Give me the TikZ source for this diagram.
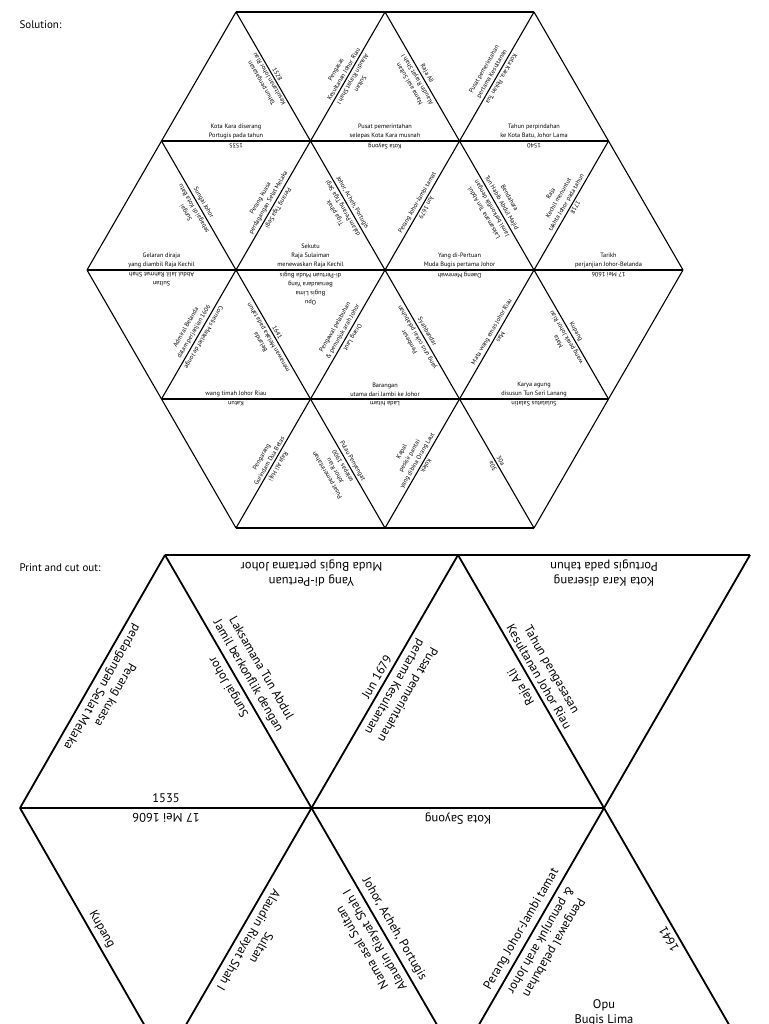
\documentclass[tikz,border=0pt]{standalone}
\usepackage{fontspec}
\setmainfont{PT Sans}
\begin{document}
\begin{tikzpicture}[x=1pt,y=-1pt,
  el/.style={sloped,allow upside down,above,align=center,inner sep=0.5pt,outer sep=2pt,font=\fontsize{6.3}{9}\selectfont},
  bl/.style={sloped,allow upside down,above,align=center,inner sep=1pt,outer sep=4pt,font=\fontsize{12.5}{15}\selectfont},
  hx/.style={line width=1.1pt},
  px/.style={line width=1.8pt}]
\newcommand\lbl[3]{\path (#1) -- node[el]{#3} (#2);}
\newcommand\Lbl[3]{\path (#1) -- node[bl]{#3} (#2);}
\useasboundingbox (0,0) rectangle (768,1024);
\clip (0,0) rectangle (768,1024);
\node[anchor=west,font=\fontsize{11}{13}\selectfont] (t1) at (16,25) {Solution:};
\node[anchor=west,font=\fontsize{11}{13}\selectfont] (t2) at (16,568) {Print and cut out:};
% hexagon points
\coordinate (a1) at (236,12); \coordinate (a2) at (385,12); \coordinate (a3) at (534,12);
\coordinate (b1) at (161.5,141); \coordinate (b2) at (310.5,141); \coordinate (b3) at (459.5,141); \coordinate (b4) at (608.5,141);
\coordinate (c1) at (87,270); \coordinate (c2) at (236,270); \coordinate (c3) at (385,270); \coordinate (c4) at (534,270); \coordinate (c5) at (683,270);
\coordinate (d1) at (161.5,399); \coordinate (d2) at (310.5,399); \coordinate (d3) at (459.5,399); \coordinate (d4) at (608.5,399);
\coordinate (e1) at (236,528); \coordinate (e2) at (385,528); \coordinate (e3) at (534,528);
\draw[hx] (a1)--(a3) (b1)--(b4) (c1)--(c5) (d1)--(d4) (e1)--(e3);
\draw[hx] (c1)--(a1) (d1)--(a2) (e1)--(a3) (e2)--(b4) (e3)--(c5);
\draw[hx] (a1)--(e3) (c1)--(e1) (b1)--(e2) (a2)--(d4) (a3)--(c5);
% row 1
\lbl{b2}{a1}{Tahun pengasasan\\Kesultanan Johor Riau}
\lbl{a1}{b2}{1528}
\lbl{b2}{a2}{Pengasas\\Kesultanan Johor Riau}
\lbl{a2}{b2}{Sultan\\Alaudin Riayat Shah I}
\lbl{b3}{a2}{Nama asal Sultan\\Alaudin Riayat Shah I}
\lbl{a2}{b3}{Raja Ali}
\lbl{b3}{a3}{Pusat pemerintahan\\pertama Kesultanan}
\lbl{a3}{b3}{Kota Kara, Pekan Tua}
\lbl{b1}{b2}{Kota Kara diserang\\Portugis pada tahun}
\lbl{b2}{b1}{1535}
\lbl{b2}{b3}{Pusat pemerintahan\\selepas Kota Kara musnah}
\lbl{b3}{b2}{Kota Sayong}
\lbl{b3}{b4}{Tahun perpindahan\\ke Kota Batu, Johor Lama}
\lbl{b4}{b3}{1540}
% row 2
\lbl{c2}{b1}{Sungai\\sebagai di Kota Batu}
\lbl{b1}{c2}{Sungai Johor}
\lbl{c2}{b2}{Perang kuasa\\perdagangan Selat Melaka}
\lbl{b2}{c2}{Perang Tiga Segi}
\lbl{c3}{b2}{Tiga pihak\\dalam Perang Tiga Segi}
\lbl{b2}{c3}{Johor, Acheh, Portugis}
\lbl{c3}{b3}{Perang Johor-Jambi tamat}
\lbl{b3}{c3}{Jun 1679}
\lbl{c4}{b3}{Laksamana Tun Abdul\\Jamil berkonflik dengan}
\lbl{b3}{c4}{Bendahara\\Tun Habib Abdul Majid}
\lbl{c4}{b4}{Raja\\Kechil menuntut\\takhta Johor pada tahun}
\lbl{b4}{c4}{1718}
\lbl{c1}{c2}{Gelaran diraja\\yang diambil Raja Kechil}
\lbl{c2}{c1}{Sultan\\Abdul Jalil Rahmat Shah}
\lbl{c2}{c3}{Sekutu\\Raja Sulaiman\\menewaskan Raja Kechil}
\lbl{c3}{c2}{Opu\\Bugis Lima\\Bersaudara Yang\\di-Pertuan Muda Bugis}
\lbl{c3}{c4}{Yang di-Pertuan\\Muda Bugis pertama Johor}
\lbl{c4}{c3}{Daeng Merewah}
\lbl{c4}{c5}{Tarikh\\perjanjian Johor-Belanda}
\lbl{c5}{c4}{17 Mei 1606}
% row 3
\lbl{d1}{c2}{Admiral Belanda\\dalam perjanjian 1606}
\lbl{c2}{d1}{Cornelis Matelief de Jonge}
\lbl{d2}{c2}{Belanda\\menawan Melaka pada tahun}
\lbl{c2}{d2}{1641}
\lbl{d2}{c3}{Pengawal pelabuhan\\\& penunjuk arah Johor}
\lbl{c3}{d2}{Orang Laut}
\lbl{d3}{c3}{Pembesar\\yang urus cukai pelabuhan}
\lbl{c3}{d3}{Syahbandar}
\lbl{d3}{c4}{Mata wang emas Johor Riau}
\lbl{c4}{d3}{Mas}
\lbl{d4}{c4}{Mata\\wang perak Johor Riau}
\lbl{c4}{d4}{Kupang}
\lbl{d1}{d2}{wang timah Johor Riau}
\lbl{d2}{d1}{Katun}
\lbl{d2}{d3}{Barangan\\utama dari Jambi ke Johor}
\lbl{d3}{d2}{Lada hitam}
\lbl{d3}{d4}{Karya agung\\disusun Tun Seri Lanang}
\lbl{d4}{d3}{Sulalatus Salatin}
% row 4
\lbl{e1}{d2}{Pengarang\\Gurindam Dua Belas}
\lbl{d2}{e1}{Raja Ali Haji}
\lbl{e2}{d2}{Pusat pemerintahan\\Johor Riau\\selepas 1900}
\lbl{d2}{e2}{Pulau Penyengat}
\lbl{e2}{d3}{Kapal\\pesisir pantai\\yang dibina Orang Laut}
\lbl{d3}{e2}{Kolek}
\lbl{e3}{d3}{30a}
\lbl{d3}{e3}{30a}
% print part
\coordinate (p1) at (165,555); \coordinate (p2) at (458,555); \coordinate (p3) at (750,555);
\coordinate (q1) at (20,808); \coordinate (q2) at (312,808); \coordinate (q3) at (604,808);
\coordinate (r1) at (165,1061); \coordinate (r2) at (458,1061); \coordinate (r3) at (750,1061);
\draw[px] (p1)--(p3) (q1)--(q3);
\draw[px] (q1)--(p1) (r1)--(p2) (r2)--(p3);
\draw[px] (p1)--(r2) (p2)--(r3) (q1)--(r1);
\Lbl{p1}{q1}{Perang kuasa\\perdagangan Selat Melaka}
\Lbl{q2}{p1}{Sungai Johor}
\Lbl{q1}{q2}{1535}
\Lbl{p1}{q2}{Laksamana Tun Abdul\\Jamil berkonflik dengan}
\Lbl{p2}{p1}{Yang di-Pertuan\\Muda Bugis pertama Johor}
\Lbl{q2}{p2}{Jun 1679}
\Lbl{p2}{q2}{Pusat pemerintahan\\pertama Kesultanan}
\Lbl{q3}{p2}{Raja Ali}
\Lbl{p2}{q3}{Tahun pengasasan\\Kesultanan Johor Riau}
\Lbl{p3}{p2}{Kota Kara diserang\\Portugis pada tahun}
\Lbl{q2}{q1}{17 Mei 1606}
\Lbl{q1}{r1}{Kupang}
\Lbl{q2}{r1}{Sultan\\Alaudin Riayat Shah I}
\Lbl{r2}{q2}{Nama asal Sultan\\Alaudin Riayat Shah I}
\Lbl{q2}{r2}{Johor, Acheh, Portugis}
\Lbl{q3}{q2}{Kota Sayong}
\Lbl{r2}{q3}{Perang Johor-Jambi tamat}
\Lbl{q3}{r2}{Pengawal pelabuhan\\\& penunjuk arah Johor}
\Lbl{r3}{q3}{1641}
\Lbl{r2}{r3}{Opu\\Bugis Lima\\Bersaudara Yang\\di-Pertuan Muda Bugis}
\end{tikzpicture}
\end{document}
